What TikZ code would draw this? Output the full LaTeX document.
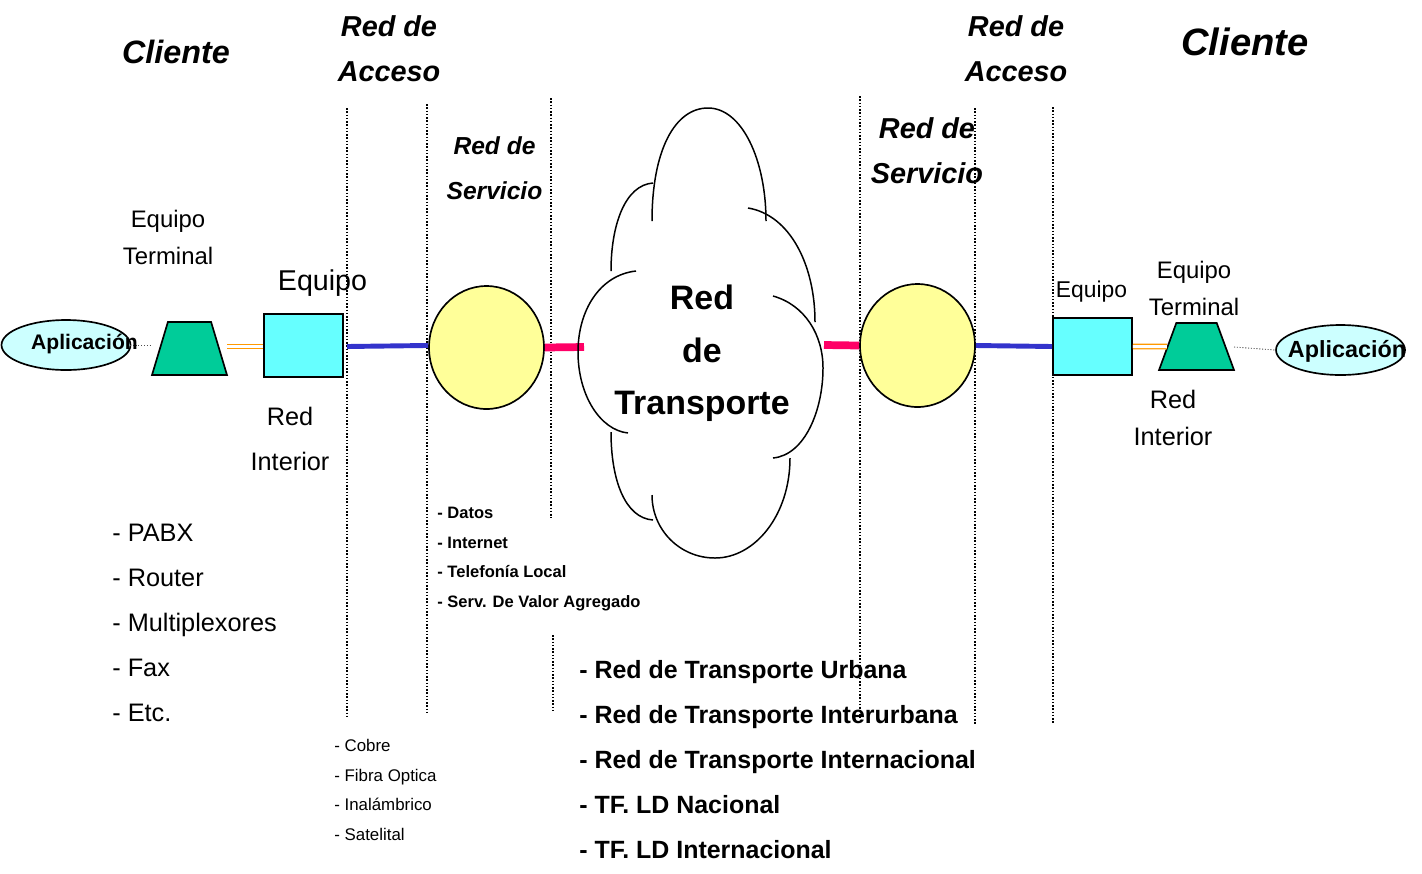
\documentclass[tikz,border=0pt]{standalone}
\usepackage{fontspec}
\setmainfont{Liberation Sans}
\usetikzlibrary{calc,positioning,shapes.geometric}
\definecolor{amarillo}{HTML}{FFFF99}
\definecolor{celeste}{HTML}{CCFFFF}
\definecolor{verde}{HTML}{00CC99}
\definecolor{turquesa}{HTML}{66FFFF}
\definecolor{azulred}{HTML}{3333CC}
\definecolor{rosared}{HTML}{FF0066}
\definecolor{naranjared}{HTML}{FF9900}
\tikzset{
    separador/.style={line width=0.85pt, dash pattern=on 0.85pt off 1pt},
    punteado/.style={line width=0.5pt, dash pattern=on 0.6pt off 1pt, black!70},
    borde/.style={draw=black, line width=0.95pt},
    nube/.style={line width=0.85pt},
    equipo/.style={borde, rectangle, fill=turquesa, inner sep=0pt},
    red/.style={borde, ellipse, fill=amarillo, inner sep=0pt, minimum width=2.3cm, minimum height=2.46cm},
    aplic/.style={borde, ellipse, fill=celeste, inner sep=0pt, minimum width=2.58cm, minimum height=1cm},
    terminal/.style={borde, trapezium, trapezium stretches=true, fill=verde, inner sep=0pt},
    txt/.style={inner sep=0pt, align=center},
    lista/.style={inner sep=0pt, align=left, anchor=west},
    azul/.style={line width=2.8pt, color=azulred},
    rosa/.style={line width=4.4pt, color=rosared},
    naranja/.style={double=white, draw=naranjared, line width=0.85pt, double distance=1.7pt}
}
\begin{document}
\begin{tikzpicture}[x=0.02cm, y=-0.02cm]
    \useasboundingbox (0,0) rectangle (1422,873);

    \coordinate (A1) at (347,108);
    \coordinate (A2) at (347,718);
    \coordinate (B1) at (427,104);
    \coordinate (B2) at (427,714);
    \coordinate (C1) at (551,98);
    \coordinate (C2) at (551,518);
    \coordinate (C3) at (553,635);
    \coordinate (C4) at (553,713);
    \coordinate (D1) at (860,96);
    \coordinate (D2) at (860,718);
    \coordinate (E1) at (975,108);
    \coordinate (E2) at (975,725);
    \coordinate (F1) at (1053,107);
    \coordinate (F2) at (1053,723);
    \draw[separador] (A1) -- (A2);
    \draw[separador] (B1) -- (B2);
    \draw[separador] (C1) -- (C2);
    \draw[separador] (C3) -- (C4);
    \draw[separador] (D1) -- (D2);
    \draw[separador] (E1) -- (E2);
    \draw[separador] (F1) -- (F2);

    \node[aplic] (aplicL) at (66,345) {};
    \node[aplic] (aplicR) at (1340.5,350) {};
    \node[terminal, trapezium left angle=70.8, trapezium right angle=70.8, minimum width=1.5cm, minimum height=1.06cm] (termL) at (189.5,348.5) {\phantom{x}};
    \node[terminal, trapezium left angle=68, trapezium right angle=68, minimum width=1.5cm, minimum height=0.94cm] (termR) at (1196.5,346.5) {\phantom{x}};
    \node[equipo, minimum width=1.58cm, minimum height=1.26cm] (equipoL) at (303.5,345.5) {};
    \node[equipo, minimum width=1.58cm, minimum height=1.14cm] (equipoR) at (1092.5,346.5) {};
    \node[red] (redL) at (486.5,347.5) {};
    \node[red] (redR) at (917.5,345.5) {};

    \coordinate (G1) at (130,345);
    \coordinate (G2) at (152,345);
    \coordinate (G3) at (1234,347);
    \coordinate (H1) at (227,346.5);
    \coordinate (H2) at (347,346.5);
    \coordinate (H3) at (584,347);
    \coordinate (H4) at (824,345);
    \draw[punteado] (G1) -- (G2);
    \draw[punteado] (G3) -- (aplicR.west);
    \draw[naranja] (H1) -- (H1 -| equipoL.west);
    \draw[naranja] (equipoR.east) -- (termR.west);
    \draw[azul] (H2) -- (redL.178);
    \draw[azul] (redR.east) -- (equipoR.west);
    \draw[rosa] (redL.east) -- (H3);
    \draw[rosa] (H4) -- (redR.west);

    \draw[nube] (652,221) .. controls (652,150) and (675,108) .. (708,108) .. controls (742,108) and (766,160) .. (766,221);
    \draw[nube] (748,208) .. controls (790,215) and (815,265) .. (815,322);
    \draw[nube] (773,296) .. controls (805,305) and (823,335) .. (823,368) .. controls (823,410) and (805,455) .. (773,458);
    \draw[nube] (790,458) .. controls (790,515) and (755,558) .. (715,558) .. controls (680,558) and (652,530) .. (652,495);
    \draw[nube] (653,520) .. controls (625,518) and (611,480) .. (611,432);
    \draw[nube] (628,433) .. controls (600,430) and (578,395) .. (578,352) .. controls (578,310) and (600,275) .. (636,271);
    \draw[nube] (611,271) .. controls (611,225) and (625,185) .. (653,183);

    \node[txt, font=\fontsize{18.4}{22}\selectfont\bfseries\itshape] (clienteL) at (176,52) {Cliente};
    \node[txt, font=\fontsize{21.7}{26}\selectfont\bfseries\itshape] (clienteR) at (1245,42) {Cliente};
    \node[txt, font=\fontsize{16.4}{25.6}\selectfont\bfseries\itshape] (accesoL) at (389,48.5) {Red de\\Acceso};
    \node[txt, font=\fontsize{16.4}{25.6}\selectfont\bfseries\itshape] (accesoR) at (1016,48.5) {Red de\\Acceso};
    \node[txt, font=\fontsize{14}{25.6}\selectfont\bfseries\itshape] (servicioL) at (494.5,168.5) {Red de\\Servicio};
    \node[txt, font=\fontsize{16.4}{25.6}\selectfont\bfseries\itshape] (servicioR) at (927,150.5) {Red de\\Servicio};
    \node[txt, font=\fontsize{19.3}{30}\selectfont\bfseries] (transporte) at (702,353.5) {Red\\de\\Transporte};

    \node[txt, font=\fontsize{13.6}{21}\selectfont] (terminalL) at (168,237.5) {Equipo\\Terminal};
    \node[txt, font=\fontsize{13.6}{21}\selectfont] (terminalR) at (1194,288.5) {Equipo\\Terminal};
    \node[txt, font=\fontsize{16.3}{20}\selectfont] (labelEquipoL) at (322.5,283) {Equipo};
    \node[txt, font=\fontsize{13}{16}\selectfont] (labelEquipoR) at (1091.5,292) {Equipo};
    \node[txt, font=\fontsize{14.4}{25.6}\selectfont] (interiorL) at (290,439) {Red\\Interior};
    \node[txt, font=\fontsize{14.4}{21}\selectfont] (interiorR) at (1173,417.5) {Red\\Interior};
    \node[txt, font=\fontsize{12}{14}\selectfont\bfseries] (textoL) at (84.5,344) {Aplicación};
    \node[txt, font=\fontsize{13.3}{16}\selectfont\bfseries] (textoR) at (1347,351) {Aplicación};

    \node[lista, font=\fontsize{14.4}{25.6}\selectfont] (listaEquipos) at (112,623) {- PABX\\- Router\\- Multiplexores\\- Fax\\- Etc.};
    \node[lista, font=\fontsize{9.4}{17}\selectfont\bfseries] (listaServicios) at (437,559) {- Datos\\- Internet\\- Telefonía Local\\- Serv. De Valor Agregado};
    \node[lista, font=\fontsize{9.6}{17}\selectfont] (listaAcceso) at (334,790) {- Cobre\\- Fibra Optica\\- Inalámbrico\\- Satelital};
    \node[lista, font=\fontsize{14.2}{25.6}\selectfont\bfseries] (listaTransporte) at (579,760) {- Red de Transporte Urbana\\- Red de Transporte Interurbana\\- Red de Transporte Internacional\\- TF. LD Nacional\\- TF. LD Internacional};
\end{tikzpicture}
\end{document}
